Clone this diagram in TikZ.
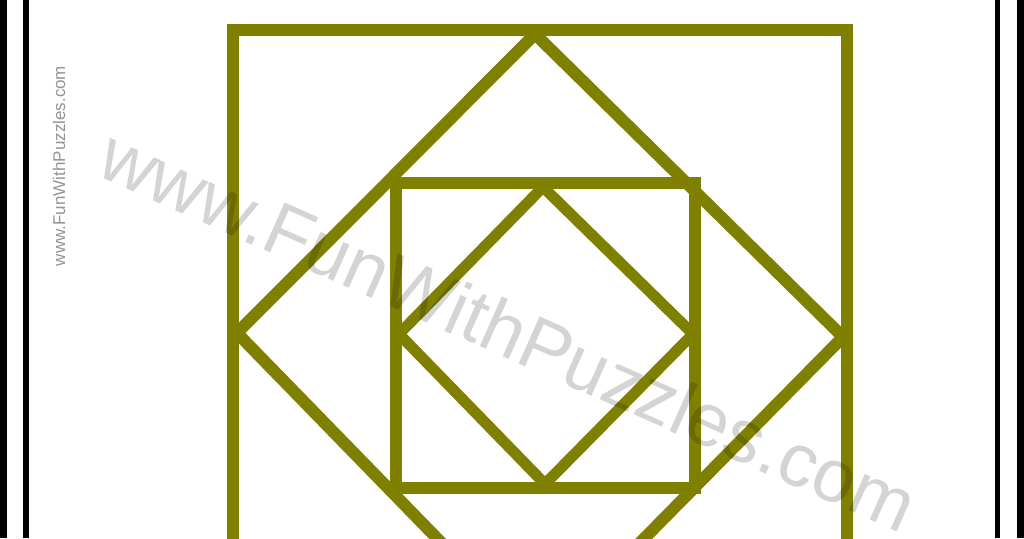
\documentclass[tikz,border=0pt]{standalone}
\usepackage{fontspec}
\setmainfont{Liberation Sans}
\definecolor{puzolive}{RGB}{128,128,0}
\begin{document}
\begin{tikzpicture}[x=1pt, y=-1pt, puzline/.style={draw=puzolive, line width=12pt},
    wmtext/.style={inner sep=0pt, text=black, text opacity=0.17}]
    \useasboundingbox (0,0) rectangle (1024,538);
    \clip (0,0) rectangle (1024,538);
    \fill [white] (0,0) rectangle (1024,538);
    % frame
    \fill [black] (0,0) rectangle (7,538);
    \fill [black] (1017,0) rectangle (1024,538);
    \fill [black] (23,0) rectangle (29,538);
    \fill [black] (995,0) rectangle (1000,538);
    % squares
    \draw [puzline] (233,700)--(233,30)--(847,30)--(847,700);
    \draw [puzline] (535,34)--(843,337)--(540,644)--(237,333)--cycle;
    \draw [puzline] (396,183) rectangle (695,488);
    \draw [puzline, line width=11pt] (543,187)--(693,334)--(545,484)--(399,334)--cycle;
    % watermark
    \node [wmtext, rotate=-24, font=\fontsize{75}{75}\selectfont] (bigmark) at (509,330) {www.FunWithPuzzles.com};
    \node [inner sep=0pt, text=black!42, rotate=90, font=\fontsize{17}{17}\selectfont] (sidemark) at (59,166) {www.FunWithPuzzles.com};
\end{tikzpicture}
\end{document}
